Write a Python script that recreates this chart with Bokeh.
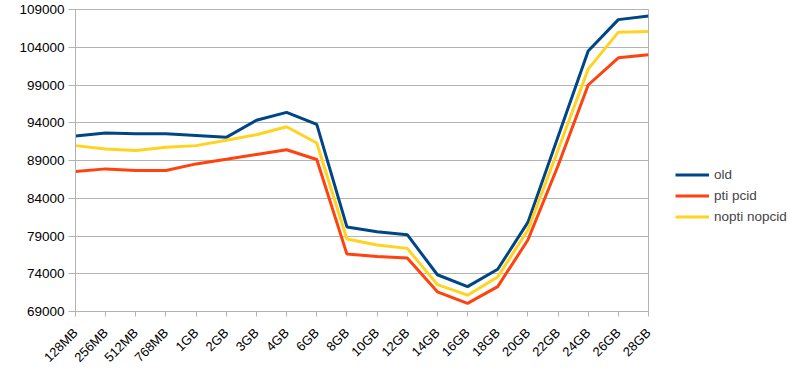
import math
from bokeh.plotting import figure
from bokeh.models import (Range1d, FixedTicker, BasicTickFormatter, Legend, LegendItem)
from bokeh.embed import file_html
from bokeh.resources import INLINE

categories = ["128MB", "256MB", "512MB", "768MB", "1GB", "2GB", "3GB", "4GB", "6GB", "8GB",
              "10GB", "12GB", "14GB", "16GB", "18GB", "20GB", "22GB", "24GB", "26GB", "28GB"]
old = [92250, 92630, 92550, 92550, 92320, 92070, 94340, 95380, 93780, 80200,
       79570, 79170, 73870, 72300, 74600, 80800, 92150, 103500, 107660, 108150]
pti_pcid = [87540, 87890, 87670, 87670, 88550, 89170, 89800, 90420, 89130, 76600,
            76280, 76100, 71600, 70070, 72300, 78470, 88300, 99000, 102600, 103000]
nopti_nopcid = [90970, 90530, 90320, 90750, 90970, 91670, 92420, 93470, 91320, 78600,
                77800, 77360, 72560, 71160, 73580, 79800, 90400, 101100, 106000, 106100]
y_ticks = list(range(69000, 109001, 5000))

series = [("old", old, "#004586"), ("pti pcid", pti_pcid, "#ff420e"),
          ("nopti nopcid", nopti_nopcid, "#ffd320")]

FONT = "Liberation Sans"
GRAY = "#b3b3b3"

p = figure(frame_width=573, frame_height=302, output_backend="svg", toolbar_location=None,
           x_range=Range1d(0, len(categories) - 1), y_range=Range1d(69000, 109000),
           min_border_left=75, min_border_right=10, min_border_top=9, min_border_bottom=60)
p.background_fill_color = "white"
p.border_fill_color = "white"
p.outline_line_color = GRAY

xs = list(range(len(categories)))
items = []
for name, vals, col in series:
    r = p.line(xs, vals, line_color=col, line_width=3)
    items.append(LegendItem(label=name, renderers=[r]))

p.xaxis.ticker = FixedTicker(ticks=xs)
p.xaxis.major_label_overrides = {i: c for i, c in enumerate(categories)}
p.xaxis.major_label_orientation = math.pi / 4
p.yaxis.ticker = FixedTicker(ticks=y_ticks)
p.yaxis.formatter = BasicTickFormatter(use_scientific=False)

for ax in (p.xaxis, p.yaxis):
    ax.axis_line_color = GRAY
    ax.major_tick_line_color = GRAY
    ax.minor_tick_line_color = None
    ax.major_tick_in = 0
    ax.major_label_text_font = FONT
    ax.major_label_text_color = "black"

p.xaxis.major_tick_out = 5
p.xaxis.major_label_standoff = 14
p.xaxis.major_label_text_font_size = "13px"
p.yaxis.major_tick_out = 7
p.yaxis.major_label_standoff = 4
p.yaxis.major_label_text_font_size = "13.5px"

p.xgrid.grid_line_color = None
p.ygrid.grid_line_color = GRAY
p.ygrid.ticker = FixedTicker(ticks=y_ticks)

legend = Legend(items=items, location=(27, 84), border_line_color=None,
                background_fill_alpha=0, label_text_font=FONT,
                label_text_font_size="13.5px", label_height=21, glyph_height=21,
                glyph_width=34, label_standoff=5, spacing=0, padding=0, margin=0)
p.add_layout(legend, "right")

open("out.html", "w").write(file_html(p, INLINE))
